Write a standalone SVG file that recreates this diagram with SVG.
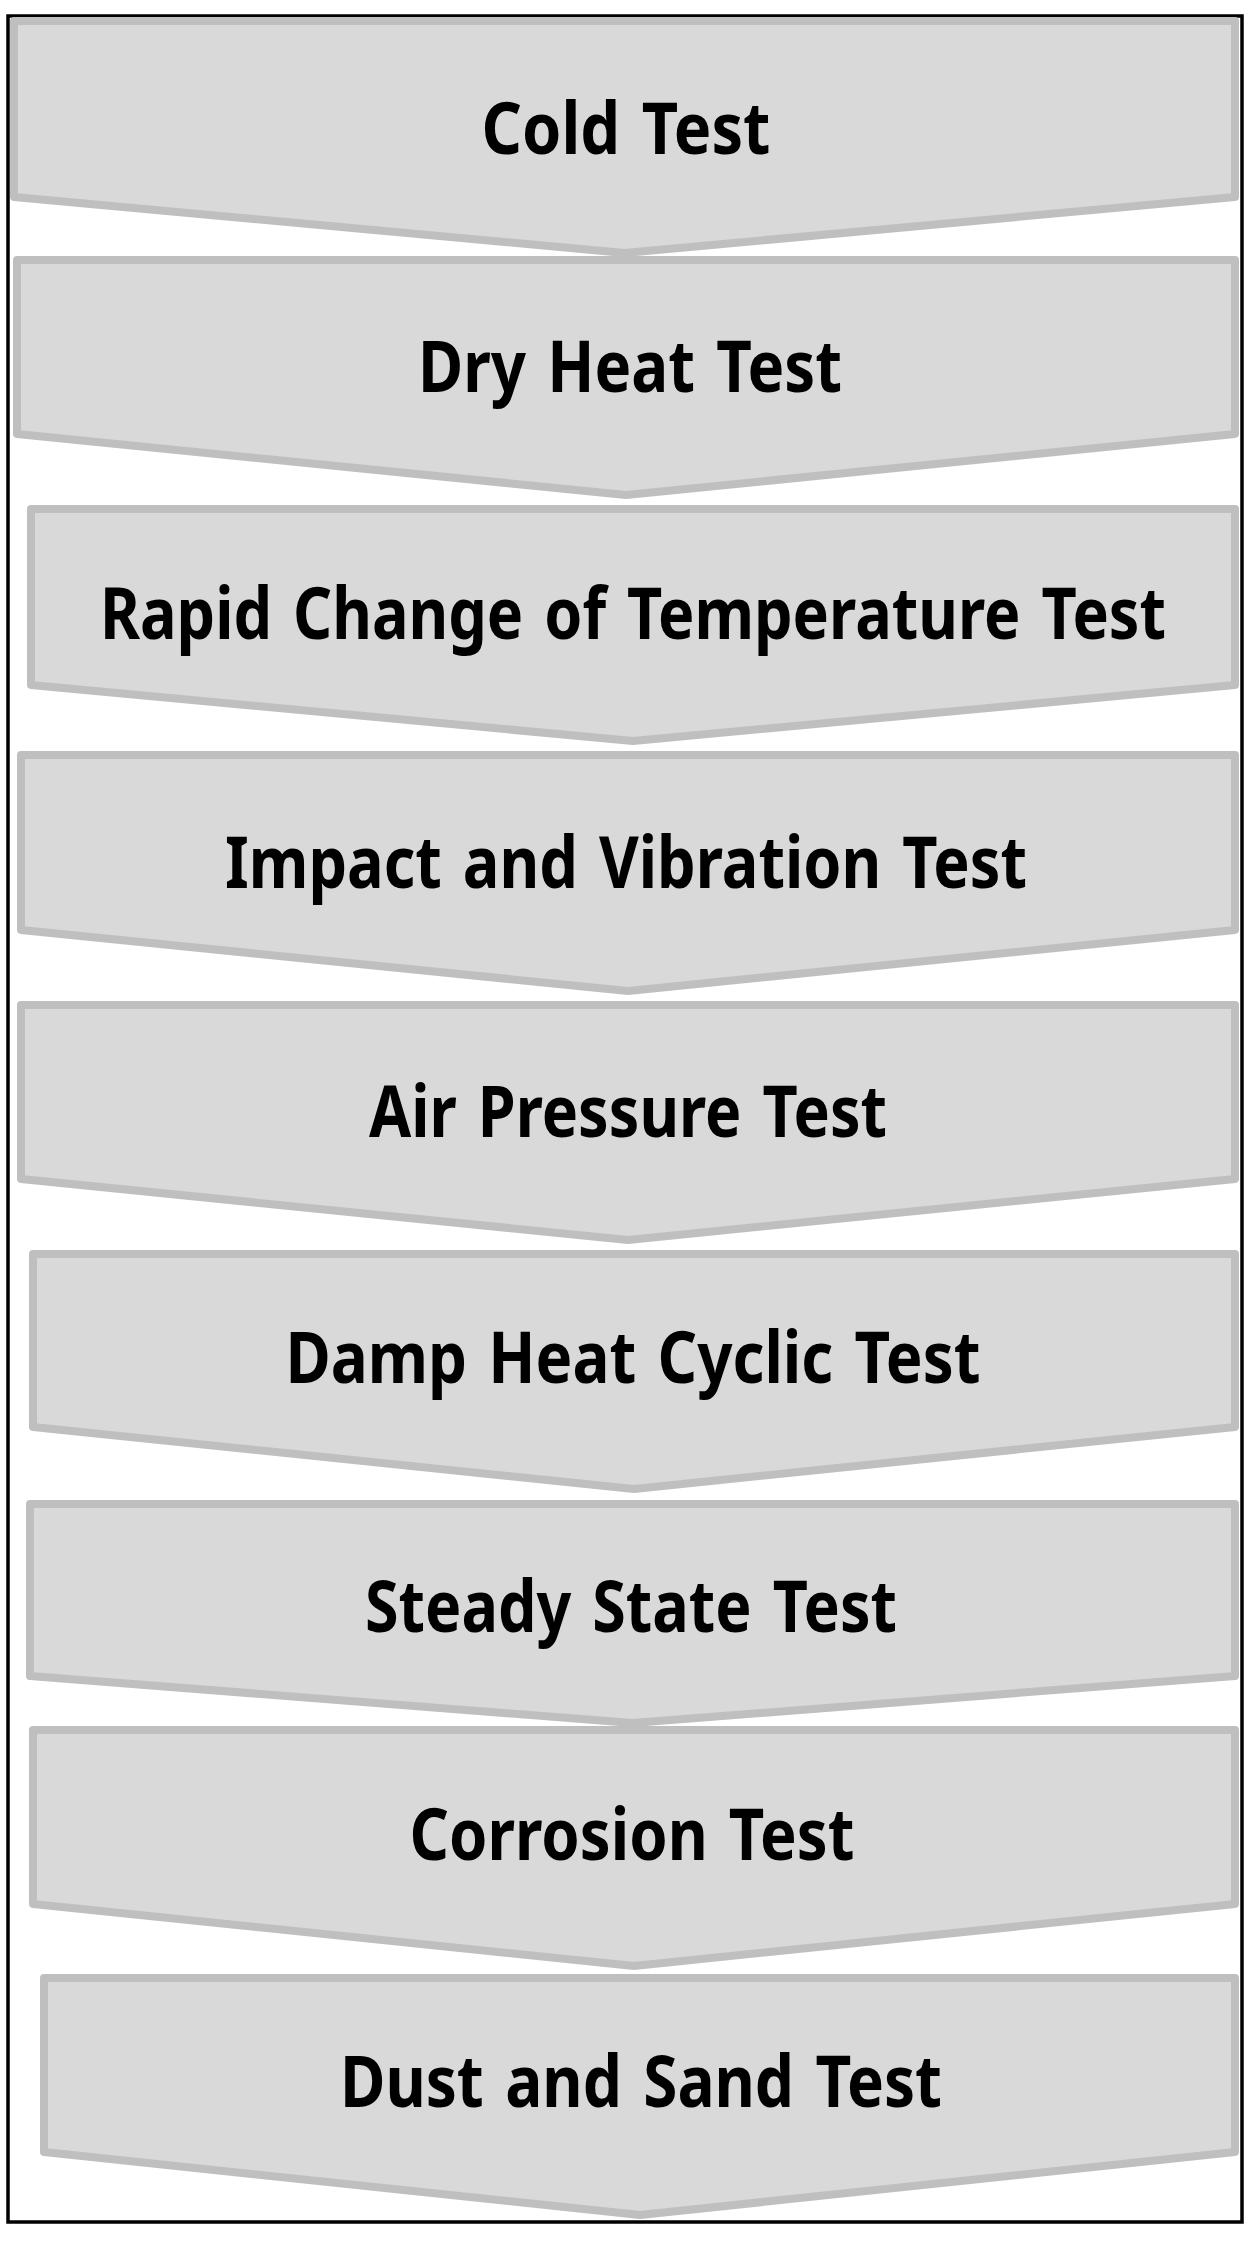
<svg xmlns="http://www.w3.org/2000/svg" width="1253" height="2243" viewBox="0 0 1253 2243">
<style>
.chev{fill:#d9d9d9;stroke:#bfbfbf;stroke-width:8;stroke-linejoin:round}
.lbl{font-family:"Noto Sans","Open Sans","DejaVu Sans",sans-serif;font-weight:bold;font-size:71px;fill:#000;text-anchor:middle;word-spacing:6px}
</style>
<rect x="0" y="0" width="1253" height="2243" fill="#fff"/>
<rect id="frame" x="8" y="16" width="1234" height="2206" fill="none" stroke="#000" stroke-width="3.5"/>
<g id="connectors"/>
<g id="n1"><path class="chev" d="M14,21 L1235,21 L1235,197 L624.5,253 L14,197 Z"/><text class="lbl" x="626" y="154" textLength="289" lengthAdjust="spacingAndGlyphs">Cold Test</text></g>
<g id="n2"><path class="chev" d="M17,260 L1235,260 L1235,434 L626,495 L17,434 Z"/><text class="lbl" x="630" y="392" textLength="424" lengthAdjust="spacingAndGlyphs">Dry Heat Test</text></g>
<g id="n3"><path class="chev" d="M31,509 L1235,509 L1235,685 L633,741 L31,685 Z"/><text class="lbl" x="633" y="639" textLength="1066" lengthAdjust="spacingAndGlyphs">Rapid Change of Temperature Test</text></g>
<g id="n4"><path class="chev" d="M21,755 L1235,755 L1235,930 L628,991 L21,930 Z"/><text class="lbl" x="626" y="888" textLength="802" lengthAdjust="spacingAndGlyphs">Impact and Vibration Test</text></g>
<g id="n5"><path class="chev" d="M21,1005 L1235,1005 L1235,1179 L628,1240 L21,1179 Z"/><text class="lbl" x="628" y="1137" textLength="518" lengthAdjust="spacingAndGlyphs">Air Pressure Test</text></g>
<g id="n6"><path class="chev" d="M33,1254 L1235,1254 L1235,1427 L634,1489 L33,1427 Z"/><text class="lbl" x="633" y="1383" textLength="695" lengthAdjust="spacingAndGlyphs">Damp Heat Cyclic Test</text></g>
<g id="n7"><path class="chev" d="M30,1504 L1235,1504 L1235,1676 L632.5,1723 L30,1676 Z"/><text class="lbl" x="631" y="1632" textLength="532" lengthAdjust="spacingAndGlyphs">Steady State Test</text></g>
<g id="n8"><path class="chev" d="M33,1730 L1235,1730 L1235,1904 L634,1966 L33,1904 Z"/><text class="lbl" x="632" y="1860" textLength="445" lengthAdjust="spacingAndGlyphs">Corrosion Test</text></g>
<g id="n9"><path class="chev" d="M44,1978 L1235,1978 L1235,2152 L640,2215 L44,2152 Z"/><text class="lbl" x="641" y="2107" textLength="602" lengthAdjust="spacingAndGlyphs">Dust and Sand Test</text></g>
</svg>
